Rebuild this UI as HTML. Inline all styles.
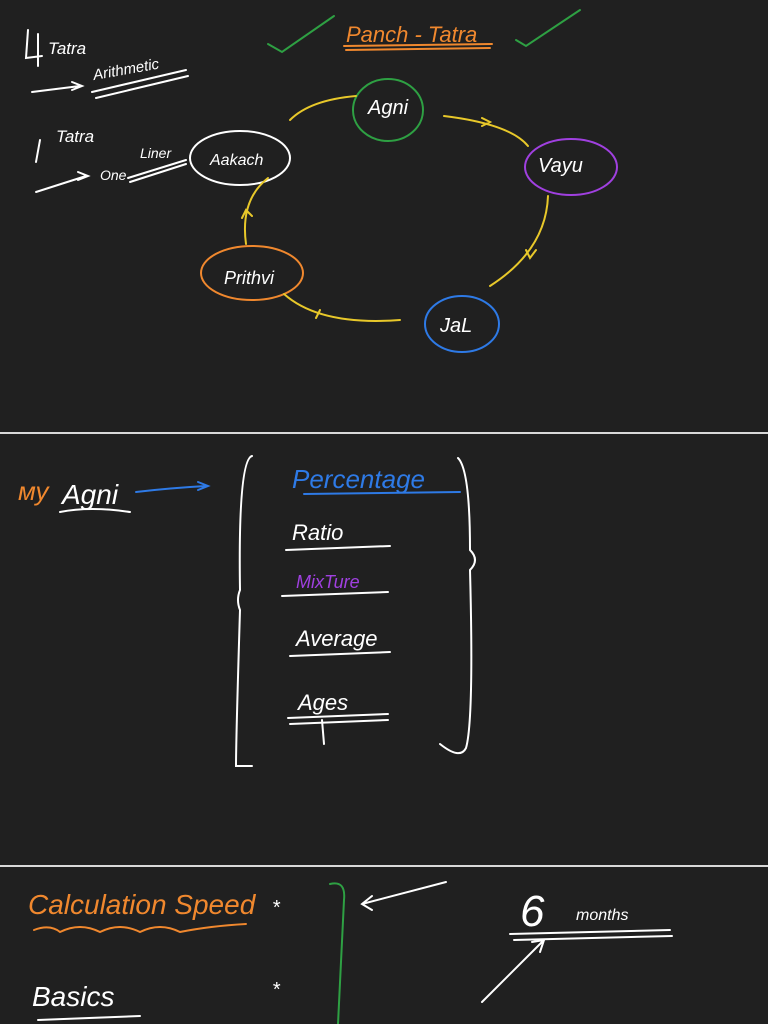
<!DOCTYPE html>
<html><head><meta charset="utf-8"><style>
html,body{margin:0;padding:0;background:#202020;}
svg{display:block}
text{font-family:"Liberation Sans",sans-serif;font-style:italic}
</style></head><body>
<svg width="768" height="1024" viewBox="0 0 768 1024" xmlns="http://www.w3.org/2000/svg">
<rect width="768" height="1024" fill="#202020"/>
<rect x="0" y="432" width="768" height="2" fill="#d8d8d8"/>
<rect x="0" y="865" width="768" height="2" fill="#d8d8d8"/>
<g fill="none" stroke-linecap="round" stroke-width="2">
<!-- top left -->
<path d="M28 30 L26 58 L42 56 M38 34 L38 66" stroke="#fff"/>
<path d="M32 92 L80 86 M72 82 L82 86 L72 90" stroke="#fff"/>
<path d="M92 92 L186 70 M96 98 L188 76" stroke="#fff"/>
<path d="M40 140 L36 162" stroke="#fff"/>
<path d="M36 192 L86 176 M78 172 L88 176 L78 180" stroke="#fff"/>
<path d="M128 178 L186 160 M130 182 L186 164" stroke="#fff"/>
<!-- checks -->
<path d="M268 44 L282 52 L334 16" stroke="#2ea043"/>
<path d="M516 40 L526 46 L580 10" stroke="#2ea043"/>
<path d="M344 46 L492 44 M346 50 L490 48" stroke="#f0882e"/>
<!-- cycle -->
<ellipse cx="240" cy="158" rx="50" ry="27" stroke="#fff"/>
<ellipse cx="388" cy="110" rx="35" ry="31" stroke="#2ea043"/>
<ellipse cx="571" cy="167" rx="46" ry="28" stroke="#a040e0"/>
<ellipse cx="462" cy="324" rx="37" ry="28" stroke="#2e7ae6"/>
<ellipse cx="252" cy="273" rx="51" ry="27" stroke="#f0882e"/>
<path d="M290 120 Q310 100 356 96" stroke="#e8c82a"/>
<path d="M444 116 Q510 124 528 146" stroke="#e8c82a"/>
<path d="M548 196 Q546 250 490 286" stroke="#e8c82a"/>
<path d="M400 320 Q320 326 284 294" stroke="#e8c82a"/>
<path d="M246 244 Q240 200 268 178" stroke="#e8c82a"/>
<path d="M482 118 L490 122 L482 126 M526 250 L530 258 L536 250 M316 318 L320 310 M242 218 L246 210 L252 216" stroke="#e8c82a"/>
<!-- middle -->
<path d="M136 492 Q170 488 206 486 M198 482 L208 486 L198 490" stroke="#2e7ae6"/>
<path d="M60 512 Q90 506 130 512" stroke="#fff"/>
<path d="M252 456 Q238 460 240 590 Q236 600 240 610 Q236 740 236 766 L252 766" stroke="#fff"/>
<path d="M458 458 Q470 470 470 550 Q480 560 470 570 Q474 720 466 748 Q460 760 440 744" stroke="#fff"/>
<path d="M304 494 L460 492" stroke="#2e7ae6"/>
<path d="M286 550 L390 546" stroke="#fff"/>
<path d="M282 596 L388 592" stroke="#fff"/>
<path d="M290 656 L390 652" stroke="#fff"/>
<path d="M288 718 L388 714 M290 724 L388 720" stroke="#fff"/>
<path d="M322 720 L324 744" stroke="#fff"/>
<!-- bottom -->
<path d="M34 930 Q50 924 60 932 Q80 922 100 932 Q120 922 140 932 Q160 922 180 932 Q210 926 246 924" stroke="#f0882e"/>
<path d="M330 884 Q346 880 344 900 L338 1024" stroke="#2ea043"/>
<path d="M446 882 L362 904 M372 896 L362 904 L372 910" stroke="#fff"/>
<path d="M510 934 L670 930 M514 940 L672 936" stroke="#fff"/>
<path d="M482 1002 L544 940 M532 942 L544 940 L540 952" stroke="#fff"/>
<path d="M38 1020 L140 1016" stroke="#fff"/>
</g>
<g fill="#fff" font-size="17">
<text x="48" y="54">Tatra</text>
<text x="94" y="80" font-size="15" transform="rotate(-10 94 80)">Arithmetic</text>
<text x="56" y="142">Tatra</text>
<text x="100" y="180" font-size="14">One</text>
<text x="140" y="158" font-size="14">Liner</text>
<text x="210" y="165" font-size="16">Aakach</text>
<text x="368" y="114" font-size="20">Agni</text>
<text x="538" y="172" font-size="20">Vayu</text>
<text x="440" y="332" font-size="20">JaL</text>
<text x="224" y="284" font-size="18">Prithvi</text>
<text x="62" y="504" font-size="28">Agni</text>
<text x="292" y="540" font-size="22">Ratio</text>
<text x="296" y="646" font-size="22">Average</text>
<text x="298" y="710" font-size="22">Ages</text>
<text x="272" y="914" font-size="20">*</text>
<text x="272" y="996" font-size="20">*</text>
<text x="520" y="926" font-size="44" font-style="normal">6</text>
<text x="576" y="920" font-size="16">months</text>
<text x="32" y="1006" font-size="28">Basics</text>
</g>
<g fill="#f0882e">
<text x="346" y="42" font-size="22">Panch - Tatra</text>
<text x="18" y="500" font-size="26">&#1084;&#1091;</text>
<text x="28" y="914" font-size="28">Calculation  Speed</text>
</g>
<text x="292" y="488" font-size="26" fill="#2e7ae6">Percentage</text>
<text x="296" y="588" font-size="18" fill="#a040e0">MixTure</text>
</svg>
</body></html>
